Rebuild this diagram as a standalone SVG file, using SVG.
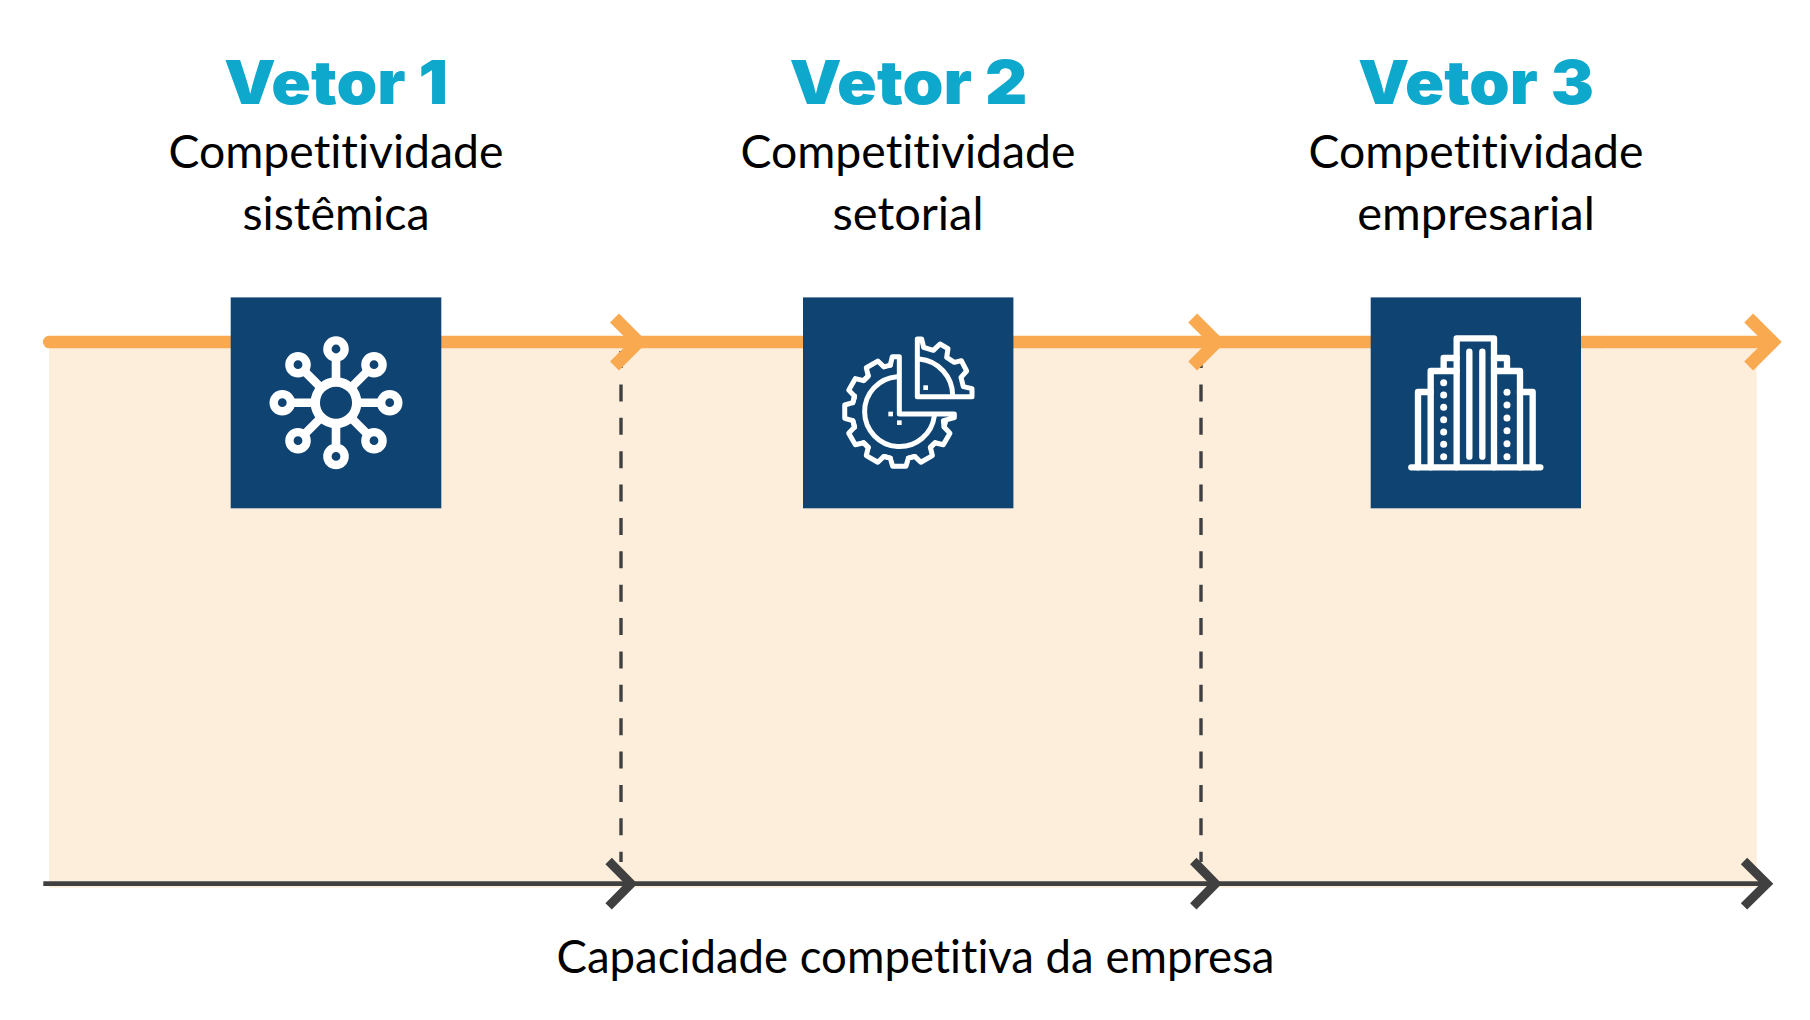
<svg xmlns="http://www.w3.org/2000/svg" xmlns:xlink="http://www.w3.org/1999/xlink" width="1810" height="1020" viewBox="0 0 1810 1020">
<style>
.title{font-family:"Inter","Liberation Sans",sans-serif;font-weight:900;font-size:60px;fill:#0fa8cd;text-anchor:middle}
.sub{font-family:"Lato","Liberation Sans",sans-serif;font-size:46px;fill:#000;text-anchor:middle;font-variant-ligatures:none}
.box{fill:#0f4472}
.ln{fill:none;stroke:#fff;stroke-linecap:round;stroke-linejoin:round}
.or{fill:none;stroke:#f9a94f;stroke-width:12.6}
.dk{fill:none;stroke:#404040;stroke-width:9}
.dash{fill:none;stroke:#404040;stroke-width:3.4;stroke-dasharray:17 16.38}
</style>
<defs>
<path id="tooth" d="M134.3,-46.2 L139.4,-27.1 L163.8,-20 L163.8,20 L139.4,27.1 L134.3,46.2"/>
</defs>
<rect x="49" y="342" width="1707.7" height="545.7" fill="#fdeedc"/>
<g id="connectors">
<path class="dash" d="M621,351V862"/>
<path class="dash" d="M1201,351V862"/>
<path fill="none" stroke="#404040" stroke-width="4.7" d="M43.3,883.7H1770"/>
<path class="dk" d="M608.6,861L631,883.7L608.6,906.4"/>
<path class="dk" d="M1193.3,861L1215.5,883.7L1193.3,906.4"/>
<path class="dk" d="M1744,861L1766.9,883.7L1744,906.4"/>
<path fill="none" stroke="#f9a94f" stroke-width="12.6" stroke-linecap="round" d="M49.3,342H1600"/>
<path class="or" d="M1600,342H1776"/>
<path class="or" d="M614.5,318L638.5,342L614.5,366"/>
<path class="or" d="M1192.7,318L1216.7,342L1192.7,366"/>
<path class="or" d="M1748.7,318L1772.8,342L1748.7,366"/>
</g>
<g id="node-1">
<text class="title" x="336" y="104" textLength="224" lengthAdjust="spacingAndGlyphs">Vetor 1</text>
<text class="sub" x="336" y="167.6" textLength="335" lengthAdjust="spacingAndGlyphs">Competitividade</text>
<text class="sub" x="336" y="230" textLength="187" lengthAdjust="spacingAndGlyphs">sistêmica</text>
<rect class="box" x="230.7" y="297.4" width="210.6" height="210.9"/>
<g transform="translate(336,402.7)">
<circle r="20.7" fill="none" stroke="#fff" stroke-width="9.3"/>
<g fill="none" stroke="#fff" stroke-width="8.4">
<circle cx="0" cy="-53.7" r="8.6"/><circle cx="0" cy="53.7" r="8.6"/><circle cx="-53.7" cy="0" r="8.6"/><circle cx="53.7" cy="0" r="8.6"/>
<circle cx="-38" cy="-38" r="8.6"/><circle cx="38" cy="-38" r="8.6"/><circle cx="-38" cy="38" r="8.6"/><circle cx="38" cy="38" r="8.6"/>
</g>
<path fill="none" stroke="#fff" stroke-width="8.6" d="M0,-42V-22M0,42V22M-42,0H-22M42,0H22M-30,-30L-17,-17M30,-30L17,-17M-30,30L-17,17M30,30L17,17"/>
</g>
</g>
<g id="node-2">
<text class="title" x="908.5" y="104" textLength="238" lengthAdjust="spacingAndGlyphs">Vetor 2</text>
<text class="sub" x="908" y="167.6" textLength="335" lengthAdjust="spacingAndGlyphs">Competitividade</text>
<text class="sub" x="908" y="230" textLength="151" lengthAdjust="spacingAndGlyphs">setorial</text>
<rect class="box" x="803" y="297.4" width="210.4" height="210.9"/>
<g transform="translate(800,290) scale(0.33333)" class="ln" stroke-width="15">
<g transform="translate(298,365)">
<use xlink:href="#tooth" href="#tooth" transform="rotate(30)"/>
<use xlink:href="#tooth" href="#tooth" transform="rotate(60)"/>
<use xlink:href="#tooth" href="#tooth" transform="rotate(90)"/>
<use xlink:href="#tooth" href="#tooth" transform="rotate(120)"/>
<use xlink:href="#tooth" href="#tooth" transform="rotate(150)"/>
<use xlink:href="#tooth" href="#tooth" transform="rotate(180)"/>
<use xlink:href="#tooth" href="#tooth" transform="rotate(210)"/>
<use xlink:href="#tooth" href="#tooth" transform="rotate(240)"/>
</g>
<path d="M298,200H277L270.9,225.6M298,200V372H463V383L430,392L432.3,411.2"/>
<path d="M291,260A105,105 0 1 0 403,378"/>
<path d="M352,147H365L371,172L400,181L420,162L444,176L440,202L463,217L484,212L500,243L483,262L490,290L516,296V320H352Z"/>
<path d="M358,207A110,110 0 0 1 458,316"/>
<g fill="#fff" stroke="none">
<rect x="265" y="365" width="14" height="14"/><rect x="291" y="391" width="14" height="14"/><rect x="370" y="286" width="14" height="14"/>
</g>
</g>
</g>
<g id="node-3">
<text class="title" x="1476" y="104" textLength="236" lengthAdjust="spacingAndGlyphs">Vetor 3</text>
<text class="sub" x="1476" y="167.6" textLength="335" lengthAdjust="spacingAndGlyphs">Competitividade</text>
<text class="sub" x="1476" y="230" textLength="237.5" lengthAdjust="spacingAndGlyphs">empresarial</text>
<rect class="box" x="1370.7" y="297.4" width="210.3" height="210.9"/>
<g transform="translate(1370,290) scale(0.33333)" class="ln" stroke-width="19">
<path d="M124,532H511"/>
<path d="M260,532V145H372V532"/>
<path d="M298,185V500M337,185V500"/>
<path d="M182,532V243H260M221,243V204H260"/>
<path d="M144,532V306H182"/>
<path d="M450,532V243H372M411,243V204H372"/>
<path d="M488,532V306H450"/>
<g fill="#fff" stroke="none">
<circle cx="221" cy="278" r="10.5"/><circle cx="221" cy="315" r="10.5"/><circle cx="221" cy="352" r="10.5"/><circle cx="221" cy="389" r="10.5"/><circle cx="221" cy="426" r="10.5"/><circle cx="221" cy="463" r="10.5"/><circle cx="221" cy="500" r="10.5"/>
<circle cx="411" cy="307" r="10.5"/><circle cx="411" cy="345" r="10.5"/><circle cx="411" cy="384" r="10.5"/><circle cx="411" cy="422" r="10.5"/><circle cx="411" cy="461" r="10.5"/><circle cx="411" cy="500" r="10.5"/>
</g>
</g>
</g>
<text class="sub" x="915.5" y="972.7" textLength="718" lengthAdjust="spacingAndGlyphs">Capacidade competitiva da empresa</text>
</svg>
